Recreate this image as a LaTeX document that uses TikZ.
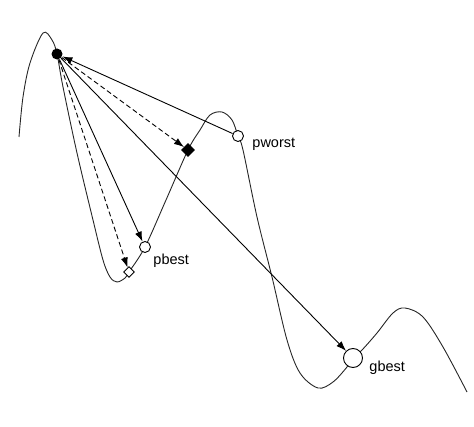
\documentclass[tikz,border=0pt]{standalone}
\usepackage{fontspec}
\setmainfont{Liberation Sans}
\usetikzlibrary{arrows.meta,shapes.geometric}

\begin{document}
\begin{tikzpicture}[x=1pt,y=-1pt,line width=0.9pt]
\tikzstyle{pt}=[circle,draw,fill=white,inner sep=0pt,minimum size=11pt]
\tikzstyle{dia}=[diamond,draw,inner sep=0pt,minimum size=13pt]
\tikzstyle{arr}=[-{Latex[length=10pt,width=7pt]}]
\tikzstyle{lbl}=[anchor=base west,inner sep=0pt,font=\fontsize{14.5}{16}\selectfont]
\useasboundingbox (0,0) rectangle (474,427);

	% the fitness landscape
	\draw[black!85] plot[smooth,tension=0.55] coordinates {(19,137) (23,97) (30,63) (43,33) (52,40) (57,54)
		(63,87) (77,153) (93,220) (103,260) (110,277) (117,282) (125,278) (129,272)
		(145,247) (166,200) (188,150) (200,130) (210,115) (222,112) (232,120) (238,136)
		(243,150) (257,217) (272,277) (287,340) (300,373) (318,388) (333,382) (347,367)
		(353,358) (362,350) (377,333) (393,313) (405,308) (423,317) (443,347) (467,392)};

	\node[circle,fill=black,inner sep=0pt,minimum size=11pt] (pcur) at (57,54) {};
	\node[pt] (pw) at (238,136) {};
	\node[pt] (pb) at (145,247) {};
	\node[pt,minimum size=19pt] (gb) at (353,358) {};
	\node[dia,fill=black] (dnew) at (188,150) {};
	\node[dia,fill=white,minimum size=11pt] (dold) at (129,272) {};

	\node[lbl] (lpw) at (252,148) {pworst};
	\node[lbl] (lpb) at (153,265) {pbest};
	\node[lbl] (lgb) at (369,372) {gbest};

	\draw[arr] (pw) -- (pcur);
	\draw[arr] (pcur) -- (pb);
	\draw[arr] (pcur) -- (gb);
	\draw[arr,dash pattern=on 5pt off 3pt] (pcur) -- (dnew);
	\draw[arr,dash pattern=on 5pt off 3pt] (pcur) -- (dold);

\end{tikzpicture}
\end{document}
